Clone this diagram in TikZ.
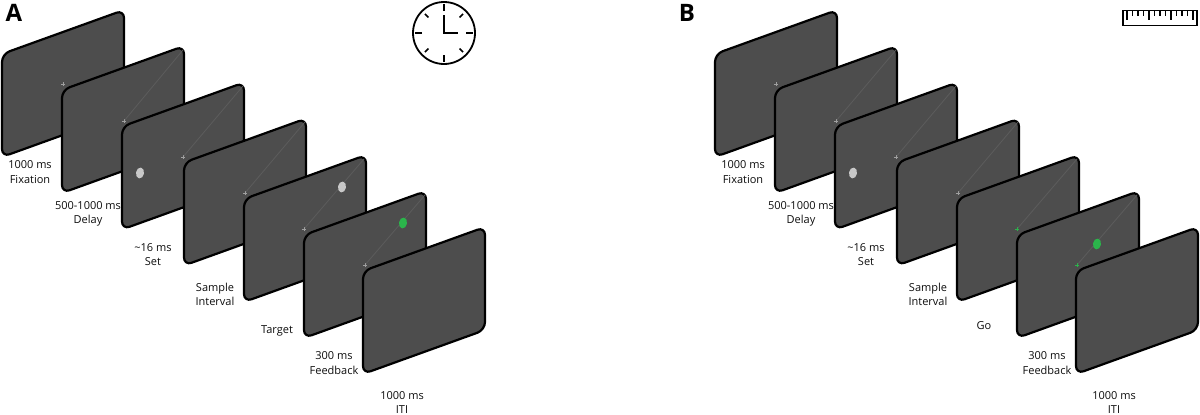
\documentclass[tikz,border=0pt]{standalone}
\usepackage{fontspec}
\setmainfont{Open Sans}
\usetikzlibrary{shapes.misc,shapes.geometric}
\definecolor{screengray}{HTML}{4D4D4D}
\definecolor{dotgreen}{HTML}{2BB54B}
\definecolor{dotgray}{HTML}{C8C8C8}
\definecolor{crossgray}{HTML}{A0A0A0}
\definecolor{pathgray}{HTML}{5C5C5C}
\tikzset{
  screen/.style={draw=black,fill=screengray,line width=2.2pt,rounded corners=8pt,line join=round},
  fixcross/.style={cross out,draw=#1,rotate=45,line width=0.5pt,minimum size=3pt,inner sep=0pt,outer sep=0pt},
  fixcross/.default=crossgray,
  targetdot/.style={ellipse,fill=#1,minimum width=8pt,minimum height=11pt,inner sep=0pt,rotate=-10},
  cue/.style={align=center,font=\fontsize{11}{14.6}\selectfont,text=black!95,inner sep=0pt},
  panel/.style={font=\fontsize{24}{24}\selectfont\bfseries,inner sep=0pt},
  trial/.style={draw=pathgray,line width=0.8pt}
}
\begin{document}
\begin{tikzpicture}[x=1pt,y=-1pt]
  \useasboundingbox (0,0) rectangle (1200,415);
  % screens
  \foreach \off in {0,713}{
    \foreach \l/\t in {2/10,62/46,122/82.5,184/118.5,244/155,304/191,363/227}{
      \draw[screen,xshift=\off pt]
        (\l,\t+44) -- (\l+122,\t) -- (\l+122,\t+103) -- (\l,\t+147) -- cycle;
    }
  }
  % panel A
  \node[panel] (labelA) at (14,13) {A};
  \draw
    (63,84) node[fixcross] (a1){}
    (124,121) node[fixcross] (a2){}
    (183,157) node[fixcross] (a3){}
    (245,193) node[fixcross] (a4){}
    (304,229) node[fixcross] (a5){}
    (365,265) node[fixcross] (a6){};
  \coordinate (ta2) at (183,50);
  \coordinate (ta3) at (243,86);
  \coordinate (ta4) at (305,122);
  \coordinate (ta5) at (364,159);
  \coordinate (ta6) at (425,195);
  \begin{scope}[trial]
    \draw[trial] (a2) to (ta2);
    \draw[trial] (a3) to (ta3);
    \draw[trial] (a4) to (ta4);
    \draw[trial] (a5) to (ta5);
    \draw[trial] (a6) to (ta6);
  \end{scope}
  \node[targetdot=dotgray] (seta) at (140,173) {};
  \node[targetdot=dotgray] (sampa) at (342,187) {};
  \node[targetdot=dotgreen] (feeda) at (403,223) {};
  \node[cue] (ca1) at (30,172) {1000 ms\\Fixation};
  \node[cue] (ca2) at (88,214) {500-1000 ms\\Delay};
  \node[cue] (ca3) at (153,254.5) {\textasciitilde 16 ms\\Set};
  \node[cue] (ca4) at (215,294.5) {Sample\\Interval};
  \node[cue] (ca5) at (277,331) {Target};
  \node[cue] (ca6) at (334,363) {300 ms\\Feedback};
  \node[cue] (ca7) at (402,402.5) {1000 ms\\ITI};
  % panel B
  \node[panel] (labelB) at (687,13) {B};
  \draw
    (776,84) node[fixcross] (b1){}
    (836,121) node[fixcross] (b2){}
    (896,157) node[fixcross] (b3){}
    (958,193) node[fixcross] (b4){}
    (1017,229) node[fixcross=dotgreen] (b5){}
    (1077,265) node[fixcross=dotgreen] (b6){};
  \coordinate (tb2) at (896,50);
  \coordinate (tb3) at (956,86);
  \coordinate (tb4) at (1018,122);
  \coordinate (tb5) at (1077,159);
  \coordinate (tb6) at (1137,195);
  \begin{scope}[trial]
    \draw[trial] (b2) to (tb2);
    \draw[trial] (b3) to (tb3);
    \draw[trial] (b4) to (tb4);
    \draw[trial] (b5) to (tb5);
    \draw[trial] (b6) to (tb6);
  \end{scope}
  \node[targetdot=dotgray] (setb) at (853,173) {};
  \node[targetdot=dotgreen] (feedb) at (1097,244) {};
  \node[cue] (cb1) at (743,172) {1000 ms\\Fixation};
  \node[cue] (cb2) at (801,214) {500-1000 ms\\Delay};
  \node[cue] (cb3) at (866,254.5) {\textasciitilde 16 ms\\Set};
  \node[cue] (cb4) at (928,294.5) {Sample\\Interval};
  \node[cue] (cb5) at (984,326) {Go};
  \node[cue] (cb6) at (1047,363) {300 ms\\Feedback};
  \node[cue] (cb7) at (1114,402.5) {1000 ms\\ITI};
  % clock
  \node[circle,draw,line width=1.8pt,minimum size=62pt,inner sep=0pt] (clock) at (444,33) {};
  \foreach \a in {0,90,180,270}
    \draw[line width=1.5pt] (clock.center) ++(\a:22pt) -- ++(\a:7pt);
  \foreach \a in {45,135,225,315}
    \draw[line width=1.5pt] (clock.center) ++(\a:22pt) -- ++(\a:5pt);
  \draw[line width=1.8pt] (444,15) -- (clock.center) -- (458,33);
  % ruler
  \node[rectangle,draw,line width=1.2pt,minimum width=74pt,minimum height=15pt,inner sep=0pt] (ruler) at (1160,18) {};
  \foreach \i in {0,...,12}{
    \pgfmathtruncatemacro{\major}{mod(\i,4)==0 ? 9 : 5}
    \draw[line width=1.2pt] (1127+5.5*\i,10.5) -- ++(0,\major);
  }
\end{tikzpicture}
\end{document}
